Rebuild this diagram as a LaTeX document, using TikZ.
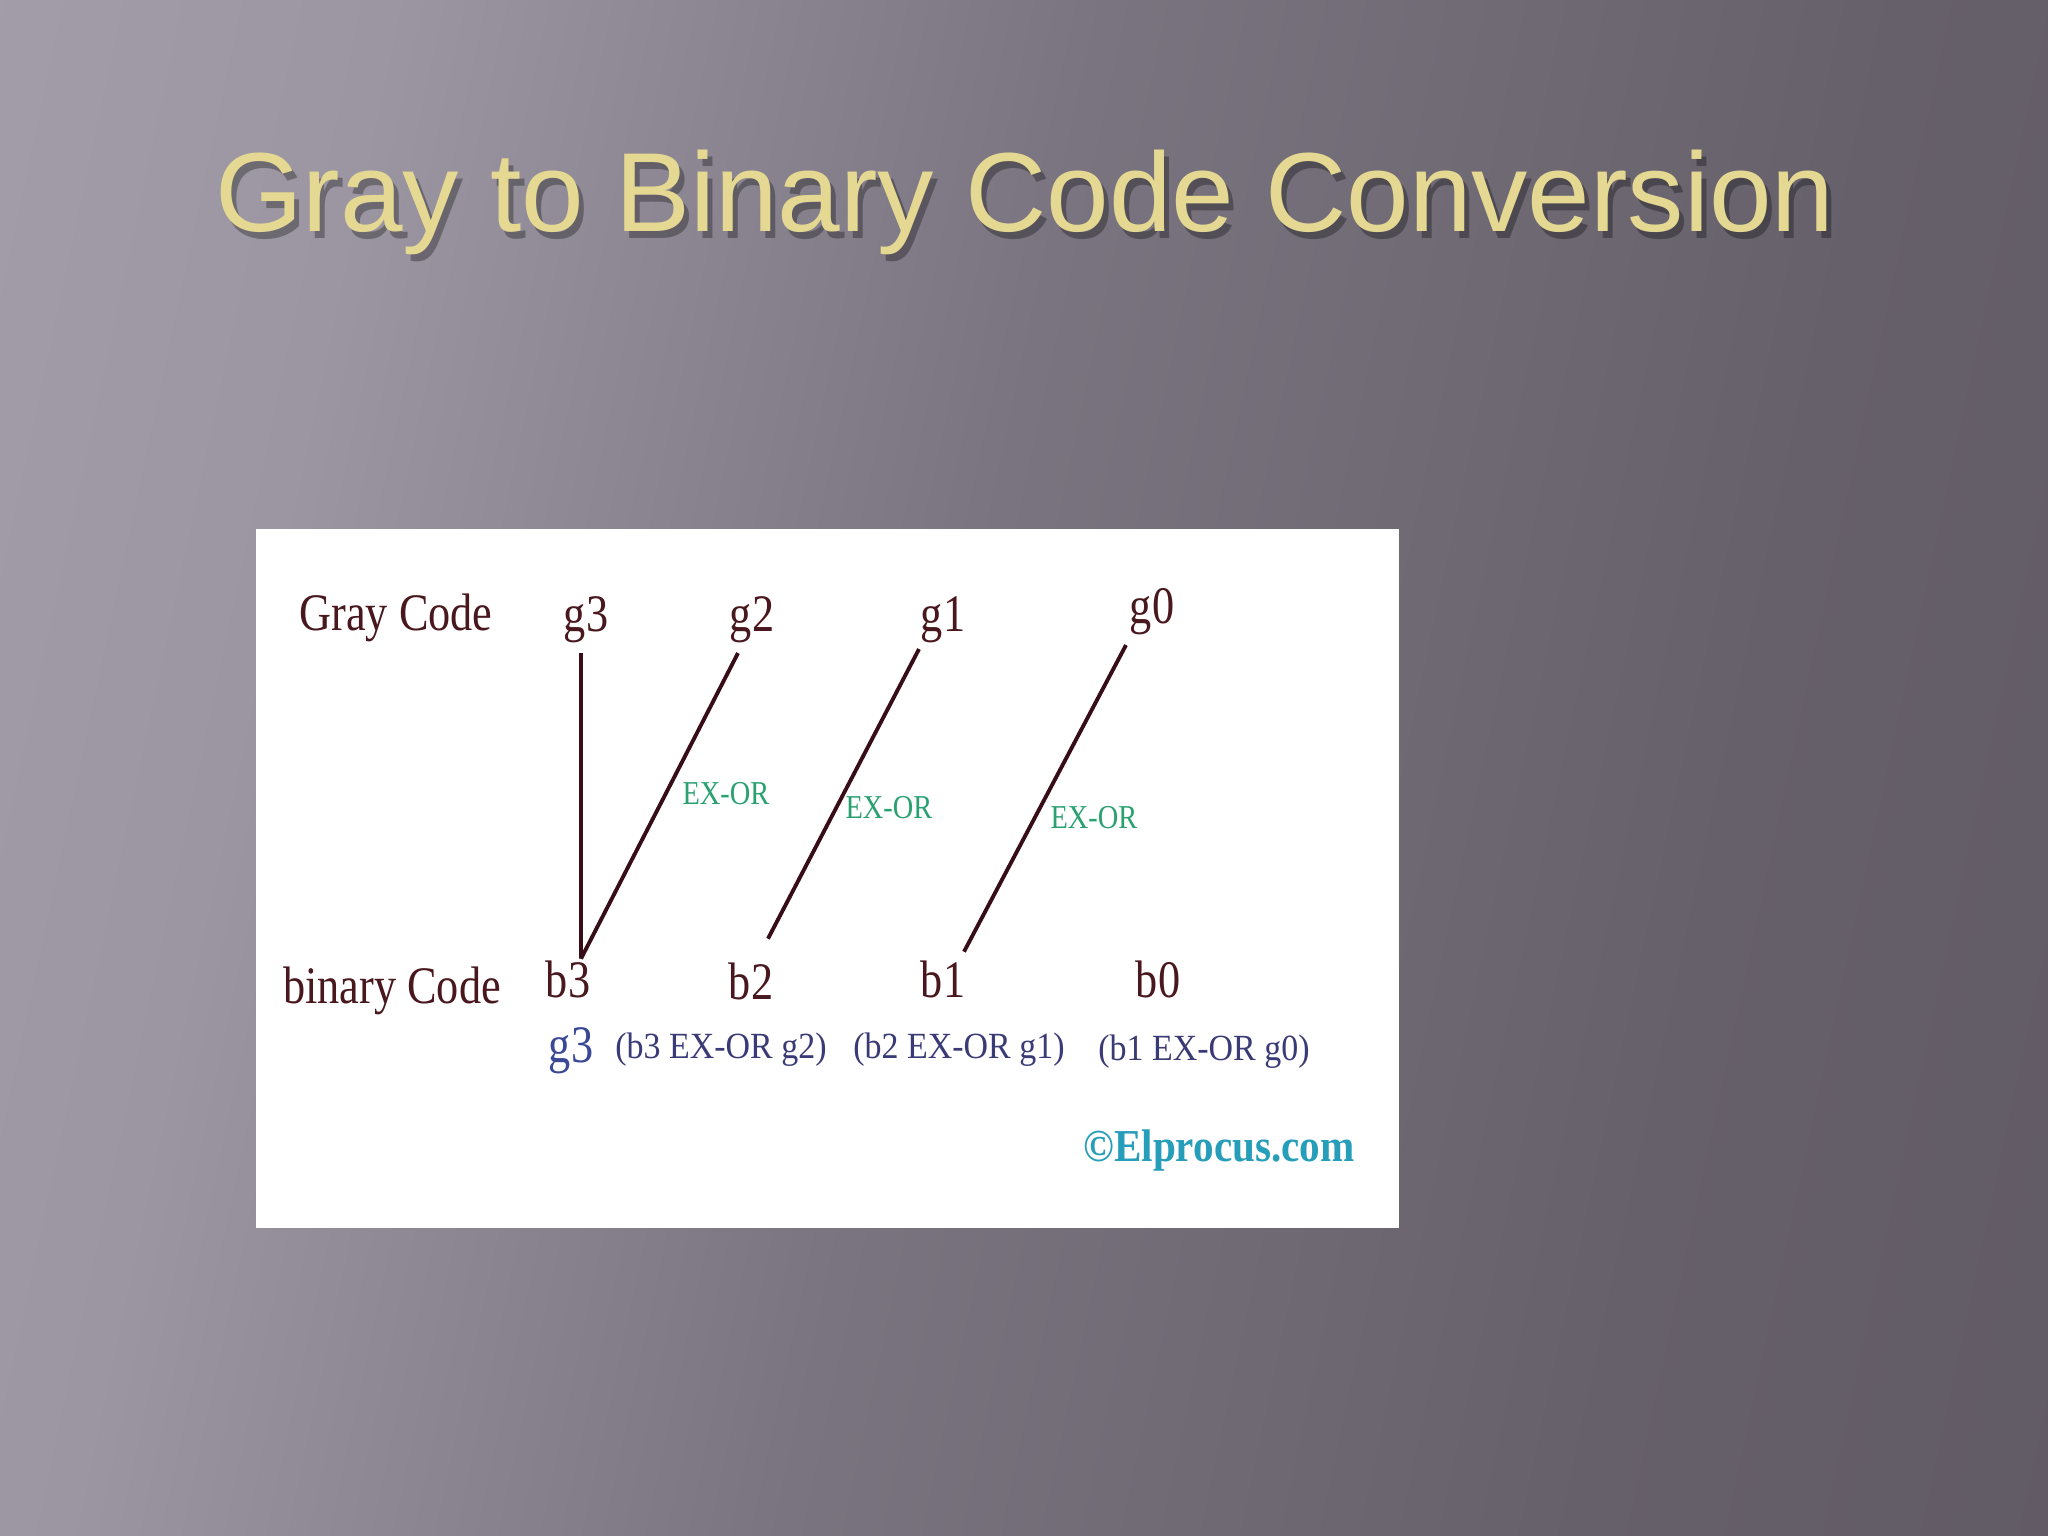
\documentclass[tikz,border=0pt]{standalone}
\usepackage{fontspec}
\setmainfont{Liberation Serif}
\newfontfamily\titlefont{Liberation Sans}
\usepackage{graphicx}
\usepackage{tikz}
\usetikzlibrary{calc}
\usetikzlibrary{positioning}

\definecolor{bgA}{RGB}{176,170,182}
\definecolor{bgB}{RGB}{156,150,162}
\definecolor{bgC}{RGB}{122,116,128}
\definecolor{bgD}{RGB}{102,96,106}
\definecolor{bgE}{RGB}{90,83,93}
\definecolor{titlegold}{RGB}{228,216,146}
\definecolor{labelred}{RGB}{72,24,30}
\definecolor{linered}{RGB}{55,14,24}
\definecolor{xorgreen}{RGB}{40,160,112}
\definecolor{resblue}{RGB}{58,58,118}
\definecolor{gblue}{RGB}{58,72,150}
\definecolor{sitecyan}{RGB}{38,158,186}

\pgfdeclarehorizontalshading{slidebg}{100bp}{color(0bp)=(bgA); color(30bp)=(bgB); color(48bp)=(bgC); color(68bp)=(bgD); color(100bp)=(bgE)}

\newcommand{\narrow}[2][0.84]{\scalebox{#1}[1]{#2}}

\tikzset{
  slidetitle/.style={inner sep=0pt, anchor=base, text=titlegold, font=\titlefont\fontsize{32}{38}\selectfont},
  slideshadow/.style={slidetitle, text=black, opacity=.3},
  codelbl/.style={inner sep=0pt, anchor=base, text=labelred, font=\fontsize{15}{18}\selectfont},
  reslbl/.style={inner sep=0pt, anchor=base, text=resblue, font=\fontsize{10.5}{12}\selectfont},
  xorlbl/.style={inner sep=0pt, text=xorgreen, font=\fontsize{9.5}{11}\selectfont},
  xorline/.style={draw=linered, line width=1.1pt}
}

\begin{document}
\begin{tikzpicture}
\useasboundingbox (0,0) rectangle (20.48,15.36);
\shade[shading=slidebg, shading angle=-12] (0,0) rectangle (20.48,15.36);

%%% title %%%
\node[slideshadow] at (10.30,12.97) {Gray to Binary Code Conversion};
\node[slidetitle] (title) at (10.25,13.04) {Gray to Binary Code Conversion};

%%% white card %%%
\fill[white] (2.56,3.08) rectangle (13.99,10.07);

%%% gray code row %%%
\node[codelbl] (graycode) at (3.96,9.05) {\narrow{Gray Code}};
\node[codelbl] (g3) at (5.86,9.04) {\narrow{g3}};
\node[codelbl] (g2) at (7.52,9.04) {\narrow{g2}};
\node[codelbl] (g1) at (9.43,9.04) {\narrow{g1}};
\node[codelbl] (g0) at (11.52,9.12) {\narrow{g0}};

%%% binary code row %%%
\node[codelbl] (binarycode) at (3.92,5.32) {\narrow{binary Code}};
\node[codelbl] (b3) at (5.68,5.38) {\narrow{b3}};
\node[codelbl] (b2) at (7.51,5.36) {\narrow{b2}};
\node[codelbl] (b1) at (9.43,5.38) {\narrow{b1}};
\node[codelbl] (b0) at (11.58,5.38) {\narrow{b0}};

%%% results %%%
\node[codelbl, text=gblue] (r3) at (5.71,4.73) {\narrow{g3}};
\node[reslbl] (r2) at (7.21,4.77) {\narrow[0.92]{(b3 EX-OR g2)}};
\node[reslbl] (r1) at (9.59,4.77) {\narrow[0.92]{(b2 EX-OR g1)}};
\node[reslbl] (r0) at (12.04,4.75) {\narrow[0.92]{(b1 EX-OR g0)}};

%%% connections %%%
\draw[xorline] ($(g3.south)+(-0.05,-0.09)$) -- ($(b3.north)+(0.13,0.02)$);
\draw[xorline] ($(g2.south)+(-0.14,-0.09)$) -- ($(b3.north)+(0.13,0.02)$);
\draw[xorline] ($(g1.south)+(-0.24,-0.05)$) -- ($(b2.north)+(0.17,0.24)$);
\draw[xorline] ($(g0.south)+(-0.26,-0.09)$) -- ($(b1.north)+(0.21,0.09)$);
\node[xorlbl] (x2) at (7.26,7.42) {\narrow[0.85]{EX-OR}};
\node[xorlbl] (x1) at (8.89,7.28) {\narrow[0.85]{EX-OR}};
\node[xorlbl] (x0) at (10.94,7.18) {\narrow[0.85]{EX-OR}};

%%% credit %%%
\node[inner sep=0pt, anchor=base, text=sitecyan, font=\bfseries\fontsize{13}{15}\selectfont] (site) at (12.19,3.74) {\narrow[0.9]{\textcopyright Elprocus.com}};
\end{tikzpicture}
\end{document}
